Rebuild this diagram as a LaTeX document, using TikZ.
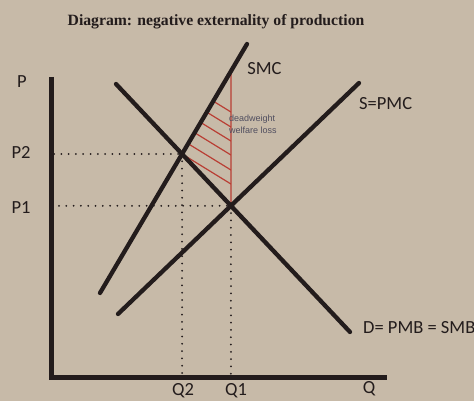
\documentclass[tikz,border=0pt]{standalone}
\usepackage{fontspec}
\setmainfont{Carlito}
\newfontfamily\titlefont{Liberation Serif}
\newfontfamily\notefont{Liberation Sans}
\definecolor{bg}{RGB}{199,186,168}
\definecolor{ink}{RGB}{35,28,28}
\definecolor{hatchred}{RGB}{185,62,52}
\definecolor{note}{RGB}{80,78,95}
\begin{document}
\begin{tikzpicture}[x=1pt,y=-1pt,
  curve/.style={ink,line width=4.3pt,line cap=round},
  axisline/.style={ink,line width=5pt,line join=miter},
  guide/.style={ink,line width=2pt,line cap=round,dash pattern=on 0pt off 7.3pt},
  hatchline/.style={hatchred,line width=1.2pt},
  lbl/.style={font=\fontsize{18.5}{20}\selectfont,text=ink,inner sep=0pt},
  note/.style={font=\notefont\fontsize{9}{10}\selectfont,text=note,inner sep=0pt,anchor=base west}]
\fill[bg] (0,0) rectangle (474,401);
\useasboundingbox (0,0) rectangle (474,401);
% coordinates
\coordinate (O) at (51,377);
\coordinate (Ptop) at (51,77);
\coordinate (Qend) at (387,377);
\coordinate (smcA) at (100,293); \coordinate (smcB) at (247,44);
\coordinate (dA) at (116,84); \coordinate (dB) at (350,332);
\coordinate (sA) at (118,314); \coordinate (sB) at (359,83);
\coordinate (E2) at (intersection of smcA--smcB and dA--dB);
\coordinate (E1) at (intersection of sA--sB and dA--dB);
\coordinate (E1up) at ([yshift=200pt]E1);
\coordinate (smcT) at (intersection of smcA--smcB and E1--E1up);
\coordinate (p2a) at (O |- E2);
\coordinate (p1a) at (O |- E1);
\coordinate (q2a) at (E2 |- O);
\coordinate (q1a) at (E1 |- O);
% hatch
\begin{scope}
  \clip (E2) -- (smcT) -- (E1) -- cycle;
  \foreach \yy in {112,127,141,155,170,184}
    \draw[hatchline] (E1 |- 0,\yy) -- ++(-70,-43);
\end{scope}
\draw[hatchline] (smcT) -- (E1);
% guides
\draw[guide] ([xshift=3pt]p2a) -- (E2);
\draw[guide] ([xshift=8pt]p1a) -- (E1);
\draw[guide] (E2) -- (q2a);
\draw[guide] (E1) -- (q1a);
% axes
\draw[axisline] (Ptop) -- (O) -- (Qend);
% curves
\draw[curve] (smcA) -- (smcB);
\draw[curve] (dA) -- (dB);
\draw[curve] (sA) -- (sB);
% labels
\node[anchor=base,font=\titlefont\bfseries\fontsize{15.7}{17}\selectfont,text=ink] (title) at (216,26) {Diagram: negative externality of production};
\node[lbl,anchor=base] (tP) at (22,88) {P};
\node[lbl,anchor=base] (tP2) at (21,159) {P2};
\node[lbl,anchor=base] (tP1) at (21,213) {P1};
\node[lbl,anchor=base] (tQ2) at (183,395) {Q2};
\node[lbl,anchor=base] (tQ1) at (236,395) {Q1};
\node[lbl,anchor=base] (tQ) at (369,393) {Q};
\node[lbl,anchor=base] (tSMC) at (264.5,75) {SMC};
\node[lbl,anchor=base west] (tS) at (359,110) {S=PMC};
\node[lbl,anchor=base west] (tD) at (363,333) {D= PMB = SMB};
\node[note] (dw1) at (229,122) {deadweight};
\node[note] (dw2) at (229,134) {welfare loss};
\end{tikzpicture}
\end{document}
